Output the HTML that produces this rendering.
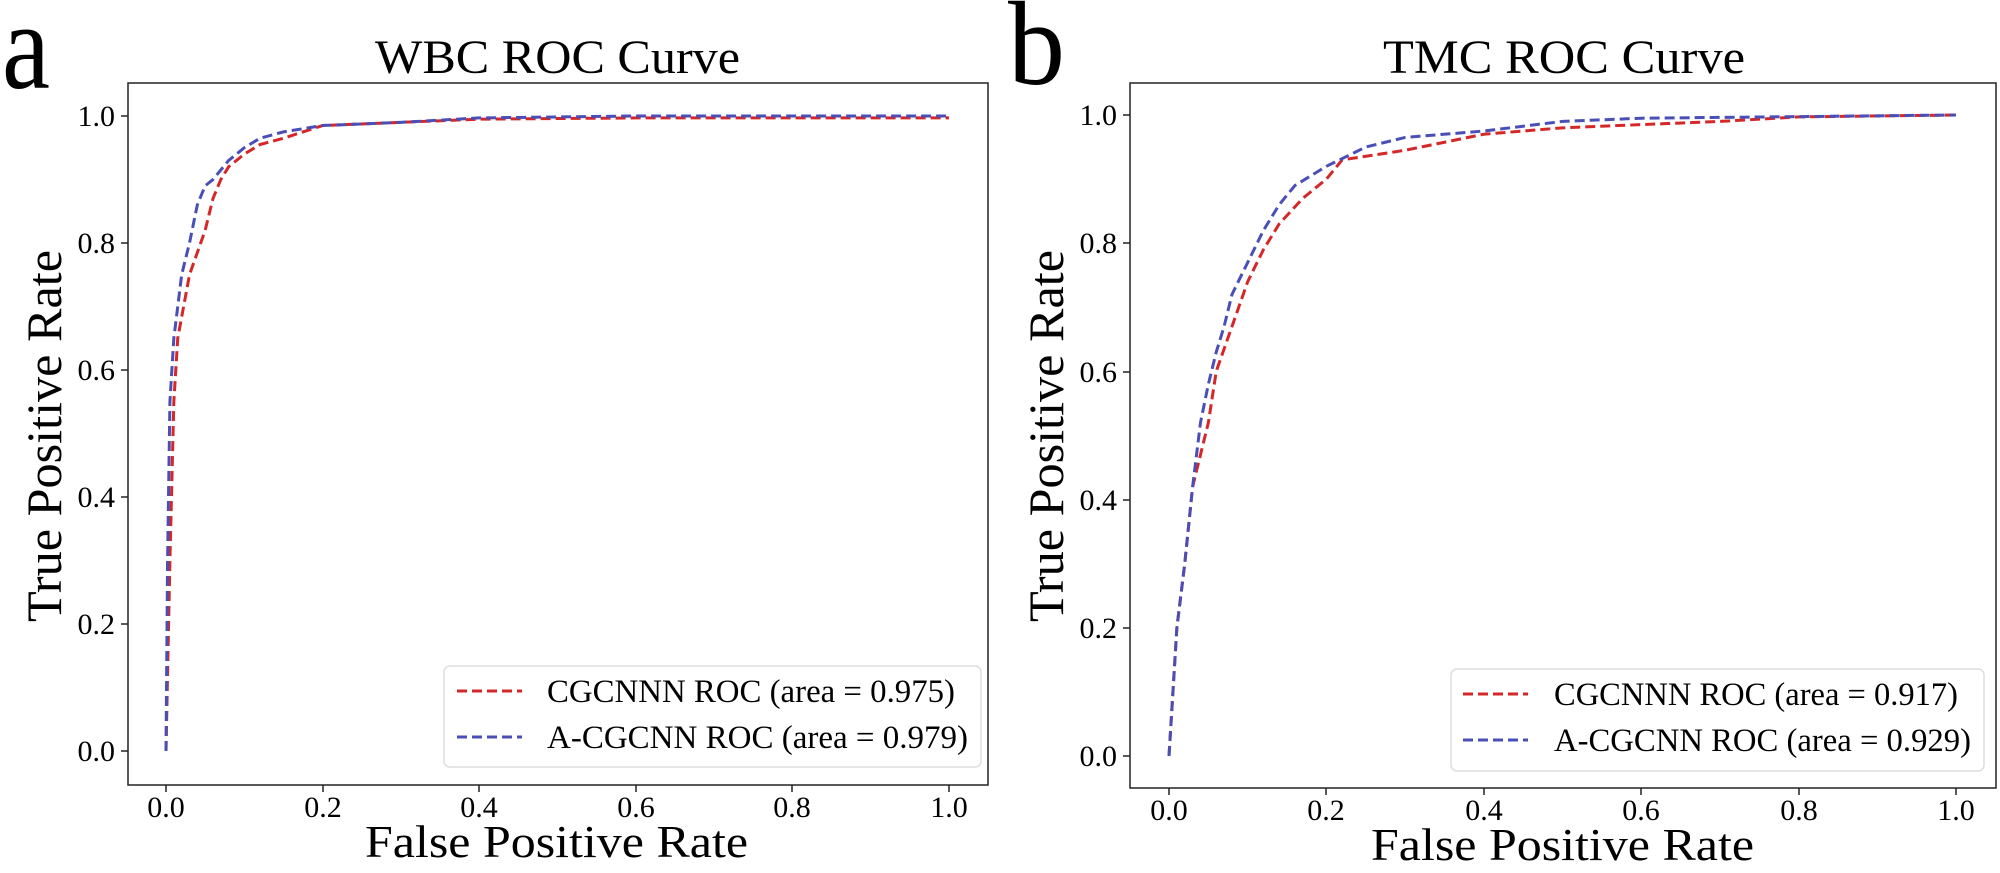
<!DOCTYPE html>
<html><head><meta charset="utf-8"><style>
html,body{margin:0;padding:0;background:#fff}
svg{display:block}
text{font-family:"Liberation Serif",serif;fill:#000}
</style></head><body>
<svg width="2000" height="873" viewBox="0 0 2000 873" xmlns="http://www.w3.org/2000/svg">
<!-- Panel a -->
<text x="2" y="88" font-size="124" textLength="48" lengthAdjust="spacingAndGlyphs">a</text>
<text x="375" y="73" font-size="48" textLength="365" lengthAdjust="spacingAndGlyphs">WBC ROC Curve</text>
<rect x="128" y="83" width="860" height="702" fill="none" stroke="#222" stroke-width="1.5"/>
<g stroke="#222" stroke-width="1.5">
<line x1="166" y1="785" x2="166" y2="792"/><line x1="323" y1="785" x2="323" y2="792"/><line x1="479" y1="785" x2="479" y2="792"/><line x1="636" y1="785" x2="636" y2="792"/><line x1="792" y1="785" x2="792" y2="792"/><line x1="949" y1="785" x2="949" y2="792"/>
<line x1="121" y1="116" x2="128" y2="116"/><line x1="121" y1="243" x2="128" y2="243"/><line x1="121" y1="370" x2="128" y2="370"/><line x1="121" y1="497" x2="128" y2="497"/><line x1="121" y1="624" x2="128" y2="624"/><line x1="121" y1="751" x2="128" y2="751"/>
</g>
<g font-size="30" text-anchor="middle">
<text x="166" y="817">0.0</text><text x="323" y="817">0.2</text><text x="479" y="817">0.4</text><text x="636" y="817">0.6</text><text x="792" y="817">0.8</text><text x="949" y="817">1.0</text>
</g>
<g font-size="30" text-anchor="end">
<text x="115" y="126">1.0</text><text x="115" y="253">0.8</text><text x="115" y="380">0.6</text><text x="115" y="507">0.4</text><text x="115" y="634">0.2</text><text x="115" y="761">0.0</text>
</g>
<text x="365" y="857" font-size="46" textLength="383" lengthAdjust="spacingAndGlyphs">False Positive Rate</text>
<text transform="translate(61,622) rotate(-90)" font-size="50" textLength="372" lengthAdjust="spacingAndGlyphs">True Positive Rate</text>
<g transform="translate(166,751) scale(783,-635)" fill="none" stroke-width="3" stroke-dasharray="10,5">
<polyline vector-effect="non-scaling-stroke" stroke="#d62728" points="0,0 0.005,0.3 0.01,0.55 0.015,0.65 0.03,0.75 0.05,0.82 0.06,0.87 0.07,0.9 0.08,0.92 0.1,0.94 0.12,0.955 0.15,0.965 0.2,0.985 0.3,0.99 0.4,0.995 0.6,0.997 1,0.997"/>
<polyline vector-effect="non-scaling-stroke" stroke="#4a4fb8" points="0,0 0.002,0.3 0.005,0.55 0.01,0.65 0.02,0.75 0.03,0.8 0.04,0.86 0.05,0.89 0.06,0.9 0.08,0.93 0.1,0.95 0.12,0.965 0.15,0.975 0.2,0.985 0.3,0.99 0.4,0.997 0.6,1 1,1"/>
</g>
<rect x="444" y="666" width="537" height="101" rx="6" fill="#fff" stroke="#ddd" stroke-width="1.5"/>
<line x1="457" y1="691" x2="522" y2="691" stroke="#d62728" stroke-width="3" stroke-dasharray="10,5"/>
<line x1="457" y1="737" x2="522" y2="737" stroke="#4a4fb8" stroke-width="3" stroke-dasharray="10,5"/>
<text x="547" y="702" font-size="33" textLength="408" lengthAdjust="spacingAndGlyphs">CGCNNN ROC (area = 0.975)</text>
<text x="547" y="748" font-size="33" textLength="421" lengthAdjust="spacingAndGlyphs">A-CGCNN ROC (area = 0.979)</text>

<!-- Panel b -->
<text x="1008" y="84" font-size="120" textLength="57" lengthAdjust="spacingAndGlyphs">b</text>
<text x="1383" y="73" font-size="48" textLength="362" lengthAdjust="spacingAndGlyphs">TMC ROC Curve</text>
<rect x="1130" y="83" width="866" height="705" fill="none" stroke="#222" stroke-width="1.5"/>
<g stroke="#222" stroke-width="1.5">
<line x1="1169" y1="788" x2="1169" y2="795"/><line x1="1326" y1="788" x2="1326" y2="795"/><line x1="1484" y1="788" x2="1484" y2="795"/><line x1="1641" y1="788" x2="1641" y2="795"/><line x1="1799" y1="788" x2="1799" y2="795"/><line x1="1956" y1="788" x2="1956" y2="795"/>
<line x1="1123" y1="115" x2="1130" y2="115"/><line x1="1123" y1="243" x2="1130" y2="243"/><line x1="1123" y1="372" x2="1130" y2="372"/><line x1="1123" y1="500" x2="1130" y2="500"/><line x1="1123" y1="628" x2="1130" y2="628"/><line x1="1123" y1="756" x2="1130" y2="756"/>
</g>
<g font-size="30" text-anchor="middle">
<text x="1169" y="820">0.0</text><text x="1326" y="820">0.2</text><text x="1484" y="820">0.4</text><text x="1641" y="820">0.6</text><text x="1799" y="820">0.8</text><text x="1956" y="820">1.0</text>
</g>
<g font-size="30" text-anchor="end">
<text x="1117" y="125">1.0</text><text x="1117" y="253">0.8</text><text x="1117" y="382">0.6</text><text x="1117" y="510">0.4</text><text x="1117" y="638">0.2</text><text x="1117" y="766">0.0</text>
</g>
<text x="1371" y="860" font-size="46" textLength="383" lengthAdjust="spacingAndGlyphs">False Positive Rate</text>
<text transform="translate(1063,622) rotate(-90)" font-size="50" textLength="372" lengthAdjust="spacingAndGlyphs">True Positive Rate</text>
<g transform="translate(1169,756) scale(787,-641)" fill="none" stroke-width="3" stroke-dasharray="10,5">
<polyline vector-effect="non-scaling-stroke" stroke="#d62728" points="0,0 0.005,0.1 0.01,0.2 0.02,0.3 0.03,0.42 0.05,0.52 0.06,0.6 0.08,0.67 0.1,0.74 0.12,0.79 0.14,0.83 0.17,0.87 0.2,0.9 0.22,0.93 0.3,0.945 0.4,0.97 0.5,0.98 0.7,0.99 0.8,0.997 1,1"/>
<polyline vector-effect="non-scaling-stroke" stroke="#4a4fb8" points="0,0 0.005,0.1 0.01,0.2 0.02,0.3 0.03,0.42 0.04,0.52 0.05,0.58 0.06,0.63 0.07,0.67 0.08,0.72 0.1,0.77 0.12,0.82 0.14,0.86 0.16,0.89 0.2,0.92 0.25,0.95 0.3,0.965 0.4,0.975 0.5,0.99 0.6,0.995 1,1"/>
</g>
<rect x="1451" y="669" width="533" height="102" rx="6" fill="#fff" stroke="#ddd" stroke-width="1.5"/>
<line x1="1463" y1="694" x2="1528" y2="694" stroke="#d62728" stroke-width="3" stroke-dasharray="10,5"/>
<line x1="1463" y1="740" x2="1528" y2="740" stroke="#4a4fb8" stroke-width="3" stroke-dasharray="10,5"/>
<text x="1554" y="705" font-size="33" textLength="404" lengthAdjust="spacingAndGlyphs">CGCNNN ROC (area = 0.917)</text>
<text x="1554" y="751" font-size="33" textLength="417" lengthAdjust="spacingAndGlyphs">A-CGCNN ROC (area = 0.929)</text>
</svg>
</body></html>
